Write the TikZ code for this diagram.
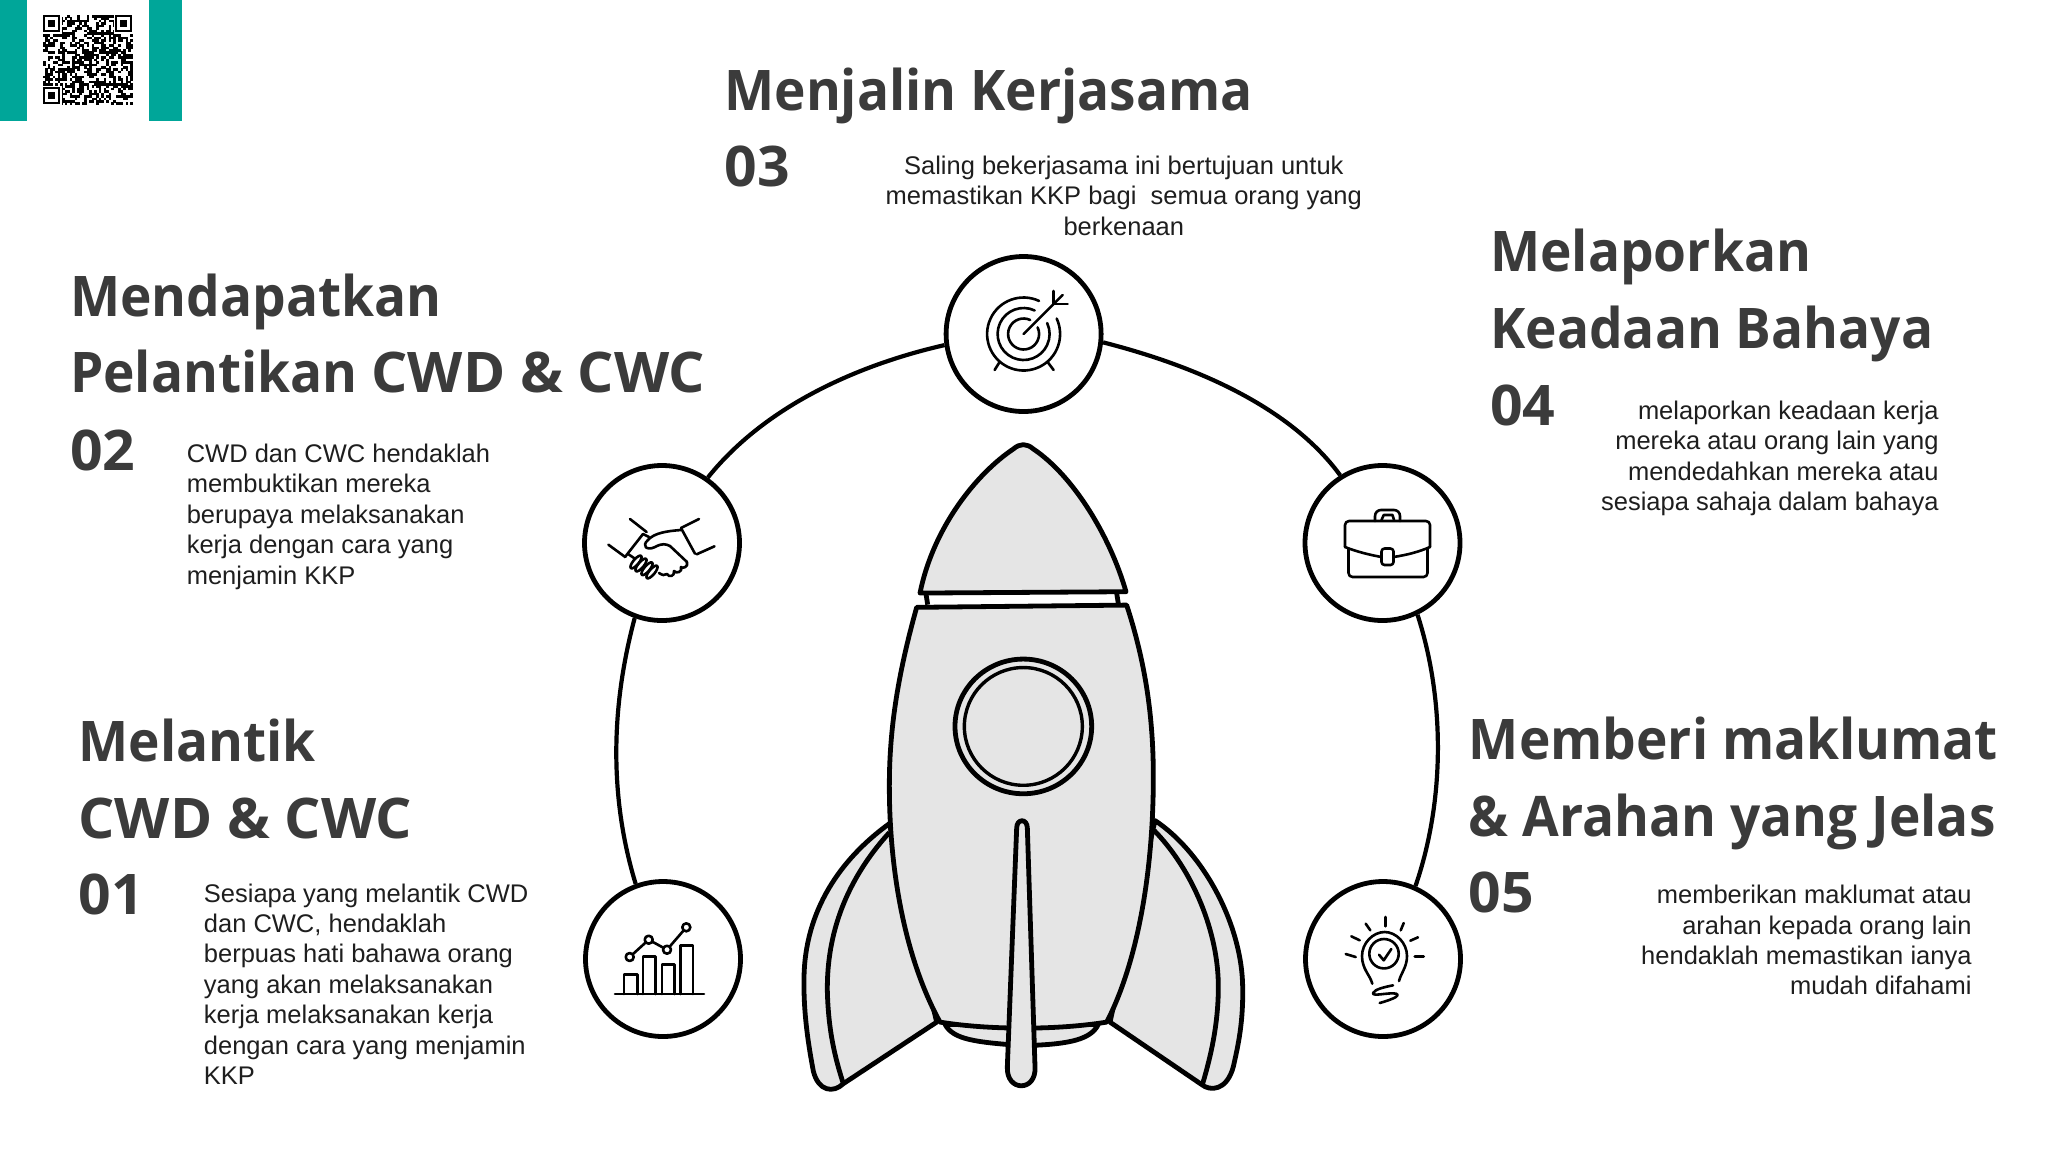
\documentclass[tikz,border=0pt]{standalone}
\usepackage{fontspec}
\setmainfont{Liberation Sans}
\newfontfamily\headfont{Open Sans}[BoldFont={Open Sans Bold},BoldFeatures={FakeStretch=.95}]
\newfontfamily\capsfont{Open Sans}[BoldFont={Open Sans Bold},BoldFeatures={FakeStretch=1.02}]
\usetikzlibrary{positioning}
\definecolor{tealbar}{HTML}{00A699}
\definecolor{headgray}{HTML}{3B3B3B}
\definecolor{bodygray}{HTML}{1E1E1E}
\definecolor{rocketgray}{HTML}{E5E5E5}
\newcommand{\capword}[1]{{\capsfont\bfseries #1}}
\tikzset{
  bubble/.style={circle,draw=black,line width=2.4pt,inner sep=0pt,minimum size=77.5pt,fill=white},
  arcline/.style={draw=black,line width=2.1pt},
  rocketline/.style={draw=black,fill=rocketgray,line width=2.4pt,line join=round},
  icon/.style={draw=black,line width=1.3pt,line cap=round,line join=round},
  headtxt/.style={anchor=base west,inner sep=0pt,align=left,text=headgray,font=\headfont\bfseries\fontsize{28}{38.3}\selectfont},
  numtxt/.style={anchor=base west,inner sep=0pt,text=headgray,font=\capsfont\bfseries\fontsize{28}{38.3}\selectfont},
  bodytxt/.style={inner sep=0pt,text=bodygray,font=\fontsize{12.75}{15.2}\selectfont},
}
\begin{document}
\begin{tikzpicture}[x=.5pt,y=-.5pt]
    \fill[white] (0,0) rectangle (2048,1152);
    \useasboundingbox (0,0) rectangle (2048,1152);

    % top left bars and code
    \fill[tealbar] (0,0) rectangle (27,121);
    \fill[tealbar] (149,0) rectangle (182,121);
    \pgfmathsetseed{11}
    \foreach \i in {0,...,36}
      \foreach \j in {0,...,36}{
        \pgfmathtruncatemacro\qrbit{rnd<0.5}
        \ifnum\qrbit=1 \fill (43+\i*2.43,15+\j*2.43) rectangle ++(2.5,2.5); \fi
      }
    \foreach \fx/\fy in {43/15,115/15,43/87}{
      \fill[white] (\fx-1,\fy-1) rectangle ++(19.5,19.5);
      \fill (\fx,\fy) rectangle ++(17,17);
      \fill[white] (\fx+2.4,\fy+2.4) rectangle ++(12.2,12.2);
      \fill (\fx+4.9,\fy+4.9) rectangle ++(7.3,7.3);
    }

    % rocket
    \begin{scope}[shift={(790,420)},xscale=1/3,yscale=.446]
      \path[rocketline] (298,905) .. controls (150,985) and (45,1100) .. (42,1250) .. controls (40,1330) and (55,1400) .. (70,1460) .. controls (85,1505) and (130,1510) .. (160,1488) -- (440,1350) -- cycle;
      \draw[line width=2.4pt] (298,925) .. controls (170,1030) and (110,1150) .. (112,1280) .. controls (115,1370) and (135,1430) .. (160,1488);
      \path[rocketline] (1095,898) .. controls (1240,970) and (1355,1130) .. (1358,1270) .. controls (1360,1350) and (1345,1400) .. (1330,1450) .. controls (1310,1505) and (1260,1505) .. (1235,1490) -- (960,1350) -- cycle;
      \draw[line width=2.4pt] (1092,920) .. controls (1210,1010) and (1285,1150) .. (1285,1270) .. controls (1285,1350) and (1265,1420) .. (1238,1488);
      \path[rocketline] (465,1355) .. controls (490,1390) and (560,1395) .. (700,1403) .. controls (810,1400) and (900,1395) .. (925,1355) -- cycle;
      \path[rocketline] (380,420) .. controls (320,580) and (298,700) .. (298,820) .. controls (298,1000) and (340,1200) .. (450,1350) .. controls (600,1368) and (800,1368) .. (950,1350) .. controls (1040,1220) and (1090,1020) .. (1090,800) .. controls (1090,650) and (1060,530) .. (1010,415) -- cycle;
      \path[rocketline] (680,915) .. controls (680,893) and (712,893) .. (712,915) -- (735,1450) .. controls (740,1507) and (648,1507) .. (652,1450) -- cycle;
      \draw[line width=2.4pt] (408,390) -- (413,414);
      \draw[line width=2.4pt] (980,388) -- (985,412);
      \path[rocketline] (390,388) .. controls (430,240) and (560,120) .. (670,65) .. controls (690,52) and (710,52) .. (730,65) .. controls (850,125) and (960,260) .. (1008,385) -- cycle;
      \draw[line width=2.4pt] (700,687) ellipse (205 and 151);
      \draw[line width=1.7pt] (700,687) ellipse (177 and 132);
    \end{scope}

    % bubbles
    \node[bubble] (chart)  at (663,959)    {};
    \node[bubble] (shake)  at (662,543)    {};
    \node[bubble] (target) at (1023.6,334) {};
    \node[bubble] (brief)  at (1382.5,543) {};
    \node[bubble] (bulb)   at (1383,959)   {};

    \path[arcline] (shake.250) .. controls (610,710) and (610,800) .. (chart.110);
    \path[arcline] (target.188) .. controls (870,362) and (770,400) .. (shake.55);
    \path[arcline] (target.-6) .. controls (1180,362) and (1285,400) .. (brief.122);
    \path[arcline] (brief.-64) .. controls (1445,700) and (1445,800) .. (bulb.66);

    % chart icon
    \begin{scope}[shift={(chart)},yscale=-1]
      \draw[icon] (-48,-35) -- (41,-35);
      \draw[icon] (-39,-35) -- (-39,-15.7) -- (-25.7,-15.7) -- (-25.7,-35);
      \draw[icon] (-20,-35) -- (-20,2.7) -- (-7.7,2.7) -- (-7.7,-35);
      \draw[icon] (-1,-35) -- (-1,-5.7) -- (11.7,-5.7) -- (11.7,-35);
      \draw[icon] (17.3,-35) -- (17.3,13.3) -- (30,13.3) -- (30,-35);
      \draw[icon] (-33.3,2) -- (-14.3,19.3) -- (4,9.3) -- (23.3,31.7);
      \foreach \px/\py in {-33.3/2,-14.3/19.3,4/9.3,23.3/31.7}
        \draw[icon,fill=white] (\px,\py) circle (4);
    \end{scope}

    % handshake icon
    \begin{scope}[shift={(shake)},yscale=-1]
      \draw[icon] (-32,24) -- (-15.4,11);
      \draw[icon] (-53.6,-1.7) -- (-36.8,-14);
      \draw[icon] (-19,9) -- (-37,-14);
      \draw[icon] (37,24) -- (19,15);
      \draw[icon] (52.5,-3.3) -- (34.6,-11.3);
      \draw[icon] (19,15) -- (33,-10.7);
      \draw[icon] (-19,9) -- (-13,6);
      \draw[icon] (19,13) .. controls (5,12) and (-8,10) .. (-14,3) .. controls (-21,-3) and (-15,-8) .. (-7,-4) .. controls (0,0) and (4,-1) .. (8,-3) -- (25,-19);
      \draw[icon] (-34,-11) -- (-28,-15);
      \draw[icon] (25,-19) .. controls (27,-24) and (20,-26) .. (19,-24) .. controls (21,-29) and (14,-31) .. (12,-28) .. controls (13,-33) and (7,-35) .. (5,-31) .. controls (3,-33) and (0,-32) .. (-3,-30);
      \foreach \px/\py in {-26/-19,-21/-22,-15/-25.7,-10/-29}
        \draw[icon,rotate around={-50:(\px,\py)}] (\px,\py) ellipse (8 and 2.8);
    \end{scope}

    % target icon
    \begin{scope}[shift={(target)},yscale=-1]
      \foreach \r in {36.5,26,15.5}
        \draw[icon] (65:\r) arc[start angle=65,end angle=385,radius=\r];
      \draw[icon] (0,0) -- (39,39);
      \draw[icon] (30,43) -- (30,30);
      \draw[icon] (44,30) -- (30,30);
      \draw[icon] (-24,-28) -- (-29,-36);
      \draw[icon] (24,-28) -- (30,-36);
    \end{scope}

    % briefcase icon
    \begin{scope}[shift={(brief)},yscale=-1]
      \draw[icon,rounded corners=2pt] (-37.5,-4) -- (-37.5,22) -- (47.5,22) -- (47.5,-4);
      \draw[icon] (-37.5,-4) .. controls (-25,-9) and (-12,-12) .. (-1,-14);
      \draw[icon] (11,-14) .. controls (24,-12) and (36,-9) .. (47.5,-4);
      \draw[icon,rounded corners=2pt] (-34,-6) -- (-34,-34) -- (45,-34) -- (45,-6);
      \draw[icon,rounded corners=1.5pt] (-1,-5.5) rectangle (11,-22);
      \draw[icon,rounded corners=3pt] (-7.5,22) -- (-7.5,33) -- (17.5,33) -- (17.5,22);
      \draw[icon] (-1,23) -- (1.2,28) -- (10,28) -- (11.5,23);
    \end{scope}

    % bulb icon
    \begin{scope}[shift={(bulb)},yscale=-1]
      \draw[icon] (-10.7,-24.7) .. controls (-13,-16) and (-21,-10) .. (-21,3) .. controls (-21,16) and (-10,27) .. (1.7,27) .. controls (13,27) and (24,16) .. (24,3) .. controls (24,-8) and (18,-14) .. (16,-22);
      \draw[icon] (1,5.3) circle (14.7);
      \draw[icon] (-4,4.3) -- (0.7,-1.3) -- (8.3,10);
      \draw[icon] (2.3,42) -- (2.3,32.7);
      \draw[icon] (-17.3,35.3) -- (-12.7,28.7);
      \draw[icon] (20.7,36) -- (17.7,28.7);
      \draw[icon] (-31.7,22.7) -- (-23.3,18.7);
      \draw[icon] (35,21.7) -- (27.3,18.3);
      \draw[icon] (-37.3,5) -- (-27.3,2);
      \draw[icon] (31.7,2.7) -- (40.7,2.7);
      \draw[icon] (10,-26.3) .. controls (2,-28) and (-8,-30) .. (-10,-34) .. controls (-11,-38) and (6,-33) .. (13.3,-34.7) .. controls (17,-36) and (14,-39) .. (-3.3,-44);
    \end{scope}

    % texts
    \node[headtxt] (h1) at (78,838.5)    {Melantik\\\capword{CWD \& CWC}};
    \node[numtxt]  (n1) at (78,914)      {01};
    \node[bodytxt,anchor=base west,align=left] (t1) at (203.5,1084.5) {Sesiapa yang melantik CWD\\dan CWC, hendaklah\\berpuas hati bahawa orang\\yang akan melaksanakan\\kerja melaksanakan kerja\\dengan cara yang menjamin\\KKP};

    \node[headtxt] (h2) at (69.7,392.6)  {Mendapatkan\\Pelantikan \capword{CWD \& CWC}};
    \node[numtxt]  (n2) at (69.7,470)    {02};
    \node[bodytxt,anchor=base west,align=left] (t2) at (186.4,584) {CWD dan CWC hendaklah\\membuktikan mereka\\berupaya melaksanakan\\kerja dengan cara yang\\menjamin KKP};

    \node[headtxt] (h3) at (724,110.3)   {Menjalin Kerjasama};
    \node[numtxt]  (n3) at (724,186.1)   {03};
    \node[bodytxt,anchor=base,align=center] (t3) at (1123.8,235) {Saling bekerjasama ini bertujuan untuk\\memastikan KKP bagi\ \ semua orang yang\\berkenaan};

    \node[headtxt] (h4) at (1489.9,348.1) {Melaporkan\\Keadaan Bahaya};
    \node[numtxt]  (n4) at (1489.9,425.1) {04};
    \node[bodytxt,anchor=base east,align=right] (t4) at (1938.9,510.4) {melaporkan keadaan kerja\\mereka atau orang lain yang\\mendedahkan mereka atau\\sesiapa sahaja dalam bahaya};

    \node[headtxt] (h5) at (1468.5,836)  {Memberi maklumat\\\& Arahan yang Jelas};
    \node[numtxt]  (n5) at (1468.5,912.5) {05};
    \node[bodytxt,anchor=base east,align=right] (t5) at (1971.9,994.8) {memberikan maklumat atau\\arahan kepada orang lain\\hendaklah memastikan ianya\\mudah difahami};
\end{tikzpicture}
\end{document}
